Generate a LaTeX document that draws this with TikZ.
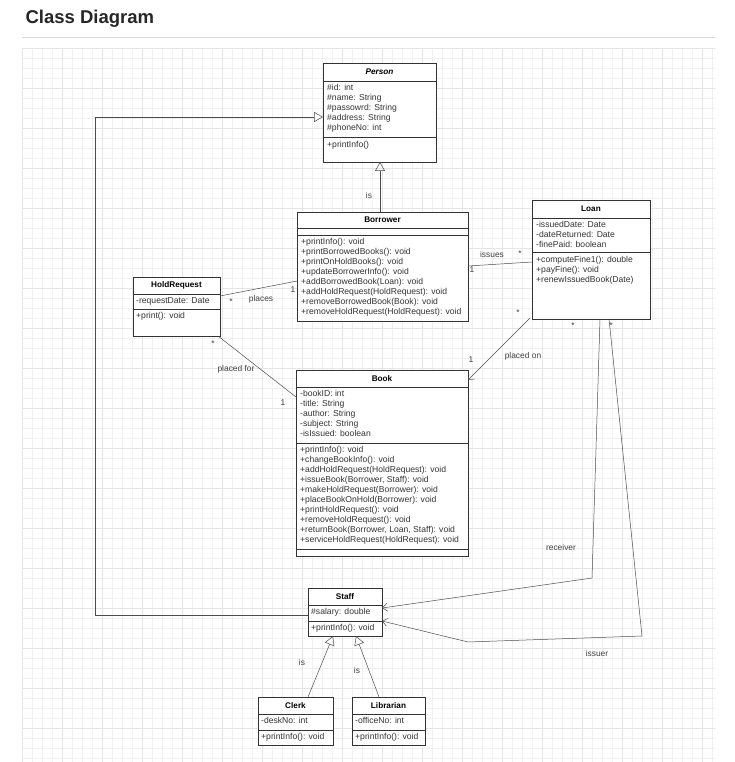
\documentclass[tikz,border=0pt]{standalone}
\usepackage{fontspec}
\setmainfont{Liberation Sans}
\usetikzlibrary{arrows.meta}
\begin{document}
\begin{tikzpicture}[x=1pt,y=-1pt,
  box/.style={draw=black!80,line width=0.6pt,fill=white},
  sep/.style={draw=black!80,line width=0.5pt},
  ttl/.style={font=\fontsize{8.2}{9}\selectfont\bfseries,anchor=center},
  txt/.style={font=\fontsize{8.6}{10}\selectfont,anchor=north west,align=left,inner sep=0pt,text=black!80},
  lbl/.style={font=\fontsize{8.4}{9}\selectfont,text=black!75,inner sep=0pt},
  con/.style={draw=black!70,line width=0.5pt},
  gen/.style={con,-{Triangle[open,length=9pt,width=10pt]}},
  nav/.style={con,-{Straight Barb[length=5pt,width=8pt]}}]
\useasboundingbox (0,0) rectangle (735,762);
\fill[white] (0,0) rectangle (735,762);
\node[anchor=west,font=\fontsize{18.5}{20}\selectfont\bfseries,text=black!85] (title) at (22,19) {Class Diagram};
\draw[black!15,line width=0.6pt] (22,37) -- (715,37);
\foreach \i in {0,...,69} {\draw[black!6,line width=0.3pt] ({22+10*\i},48) -- ({22+10*\i},762);}
\foreach \j in {0,...,71} {\draw[black!6,line width=0.3pt] (22,{48+10*\j}) -- (715,{48+10*\j});}
\foreach \i in {0,...,17} {\draw[black!10,line width=0.4pt] ({22+40*\i},48) -- ({22+40*\i},762);}
\foreach \j in {0,...,17} {\draw[black!10,line width=0.4pt] (22,{48+40*\j}) -- (715,{48+40*\j});}
% Person
\draw[box] (323,63) rectangle (436,162);
\draw[sep] (323,81) -- (436,81) (323,137) -- (436,137);
\node[ttl,font=\fontsize{8.2}{9}\selectfont\bfseries\itshape] (personT) at (379.5,72) {Person};
\node[txt] (personA) at (327,84) {\#id: int\\\#name: String\\\#passowrd: String\\\#address: String\\\#phoneNo: int};
\node[txt] (personM) at (327,141) {+printInfo()};
\coordinate (personB) at (380,162);
\coordinate (personL) at (323,117);
% Borrower
\draw[box] (297,212) rectangle (468,321);
\draw[sep] (297,228) -- (468,228) (297,235) -- (468,235);
\node[ttl] (borT) at (382.5,220) {Borrower};
\node[txt] (borM) at (301,238) {+printInfo(): void\\+printBorrowedBooks(): void\\+printOnHoldBooks(): void\\+updateBorrowerInfo(): void\\+addBorrowedBook(Loan): void\\+addHoldRequest(HoldRequest): void\\+removeBorrowedBook(Book): void\\+removeHoldRequest(HoldRequest): void};
% Loan
\draw[box] (532,200) rectangle (650,319);
\draw[sep] (532,218) -- (650,218) (532,252) -- (650,252);
\node[ttl] (loanT) at (591,209) {Loan};
\node[txt] (loanA) at (536,221) {-issuedDate: Date\\-dateReturned: Date\\-finePaid: boolean};
\node[txt] (loanM) at (536,256) {+computeFine1(): double\\+payFine(): void\\+renewIssuedBook(Date)};
% HoldRequest
\draw[box] (133,277) rectangle (220,336);
\draw[sep] (133,294) -- (220,294) (133,309) -- (220,309);
\node[ttl] (hrT) at (176.5,285.5) {HoldRequest};
\node[txt] (hrA) at (136,297) {-requestDate: Date};
\node[txt] (hrM) at (136,312) {+print(): void};
% Book
\draw[box] (296,370) rectangle (468,556);
\draw[sep] (296,387) -- (468,387) (296,443) -- (468,443) (296,549) -- (468,549);
\node[ttl] (bookT) at (382,378.5) {Book};
\node[txt] (bookA) at (300,390) {-bookID: int\\-title: String\\-author: String\\-subject: String\\-isIssued: boolean};
\node[txt] (bookM) at (300,446) {+printInfo(): void\\+changeBookInfo(): void\\+addHoldRequest(HoldRequest): void\\+issueBook(Borrower, Staff): void\\+makeHoldRequest(Borrower): void\\+placeBookOnHold(Borrower): void\\+printHoldRequest(): void\\+removeHoldRequest(): void\\+returnBook(Borrower, Loan, Staff): void\\+serviceHoldRequest(HoldRequest): void};
% Staff
\draw[box] (308,588) rectangle (382,636);
\draw[sep] (308,605) -- (382,605) (308,621) -- (382,621);
\node[ttl] (staffT) at (345,596.5) {Staff};
\node[txt] (staffA) at (311,608) {\#salary: double};
\node[txt] (staffM) at (311,624) {+printInfo(): void};
% Clerk
\draw[box] (258,697) rectangle (333,745);
\draw[sep] (258,714) -- (333,714) (258,730) -- (333,730);
\node[ttl] (clerkT) at (295.5,705.5) {Clerk};
\node[txt] (clerkA) at (261,717) {-deskNo: int};
\node[txt] (clerkM) at (261,733) {+printInfo(): void};
% Librarian
\draw[box] (352,697) rectangle (425,745);
\draw[sep] (352,714) -- (425,714) (352,730) -- (425,730);
\node[ttl] (libT) at (388.5,705.5) {Librarian};
\node[txt] (libA) at (355,717) {-officeNo: int};
\node[txt] (libM) at (355,733) {+printInfo(): void};
% connectors
\draw[gen] (380,212) -- (personB);
\node[lbl] (is1) at (369,195) {is};
\draw[gen] (308,615) -- (95,615) -- (95,117) -- (personL);
\draw[con] (468,266) -- (532,262);
\node[lbl] (l1) at (492,254) {issues};
\node[lbl] (l2) at (520,254) {*};
\node[lbl] (l3) at (472,270) {1};
\draw[con] (220,296) -- (297,281);
\node[lbl] (l4) at (231,302) {*};
\node[lbl] (l5) at (261,299) {places};
\node[lbl] (l6) at (293,290) {1};
\draw[con] (218,336) -- (296,397);
\node[lbl] (l7) at (213,344) {*};
\node[lbl] (l8) at (236,369) {placed for};
\node[lbl] (l9) at (283,403) {1};
\draw[nav] (530,318) -- (468,380);
\node[lbl] (l10) at (518,313) {*};
\node[lbl] (l11) at (471,360) {1};
\node[lbl] (l12) at (523,356) {placed on};
\draw[nav] (600,319) -- (592,578) -- (382,608);
\node[lbl] (l13) at (573,326) {*};
\node[lbl] (l14) at (561,547) {receiver};
\draw[nav] (609,319) -- (642,636) -- (468,642) -- (382,621);
\node[lbl] (l15) at (611,326) {*};
\node[lbl] (l16) at (597,653) {issuer};
\draw[gen] (308,697) -- (333,636);
\node[lbl] (is2) at (302,662) {is};
\draw[gen] (379,697) -- (356,636);
\node[lbl] (is3) at (357,670) {is};
\end{tikzpicture}
\end{document}
